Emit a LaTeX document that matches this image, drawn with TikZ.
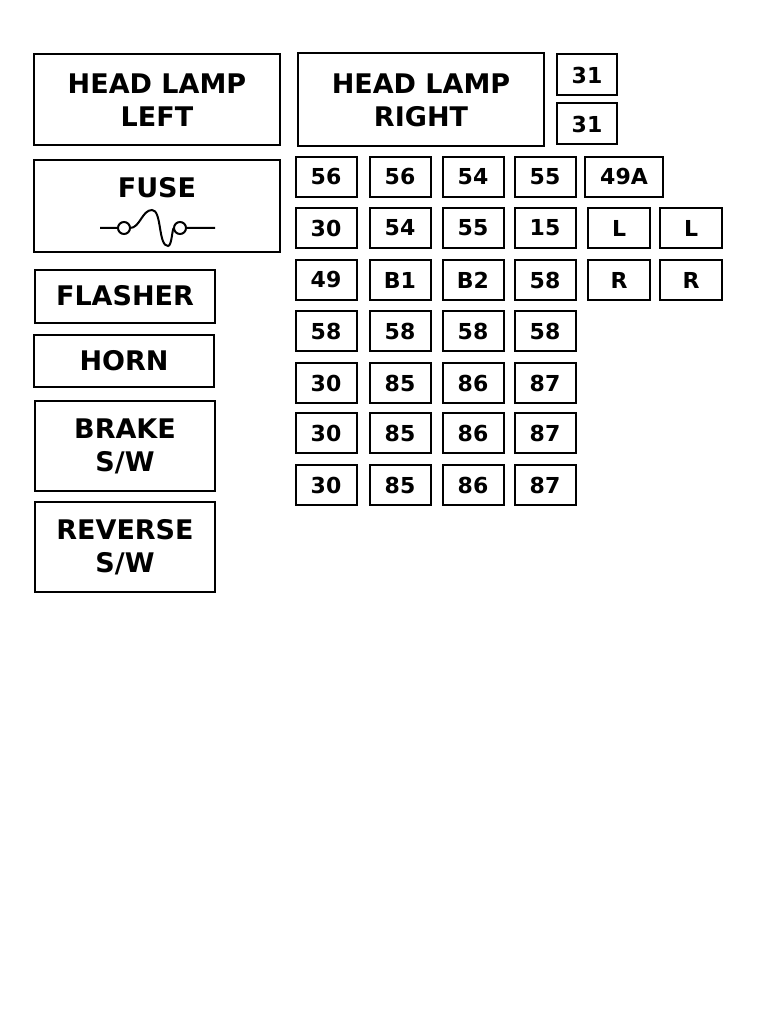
\documentclass[tikz,border=0pt]{standalone}
\usepackage{fontspec}
\setmainfont{DejaVu Sans}
\usetikzlibrary{positioning}
\begin{document}
\begin{tikzpicture}[x=1pt,y=-1pt,line width=2pt,
  lbl/.style={draw,rectangle,inner sep=0pt,align=center,font=\bfseries\fontsize{27}{33}\selectfont},
  pin/.style={draw,rectangle,inner sep=0pt,font=\bfseries\fontsize{22}{24}\selectfont}]
  \useasboundingbox (0,0) rectangle (768,1024);
  % left column
  \node (hll) [lbl,minimum width=246pt,minimum height=91pt] at (157,100) {HEAD LAMP\\LEFT};
  \node (fuse) [lbl,minimum width=246pt,minimum height=91pt,text depth=38pt] at (157,206) {FUSE};
  \node (fla) [lbl,minimum width=180pt,minimum height=53pt] at (125,296) {FLASHER};
  \node (horn) [lbl,minimum width=180pt,minimum height=52pt] at (124,361) {HORN};
  \node (brk) [lbl,minimum width=180pt,minimum height=90pt] at (125,446) {BRAKE\\S/W};
  \node (rev) [lbl,minimum width=180pt,minimum height=90pt] at (125,547) {REVERSE\\S/W};
  \node (hlr) [lbl,minimum width=246pt,minimum height=93pt] at (421,100) {HEAD LAMP\\RIGHT};
  \node (t1) [pin,minimum width=60pt,minimum height=41pt] at (587,75) {31};
  \node (t2) [pin,minimum width=60pt,minimum height=41pt] at (587,124) {31};
  % fuse symbol
  \draw (100,228) -- (118,228) (130,228) .. controls (140,228) and (142,210) .. (152,210)
        .. controls (162,210) and (158,246) .. (168,246) .. controls (172,246) and (172,228) .. (174,228)
        (186,228) -- (215,228);
  \draw (124,228) circle (6) (180,228) circle (6);
  % terminal grid
  \foreach \txt/\x/\y/\n in {56/326/177/a1,56/400/177/a2,54/473/177/a3,55/545/177/a4,
      30/326/228/b1,54/400/228/b2,55/473/228/b3,15/545/228/b4,
      49/326/280/c1,B1/400/280/c2,B2/473/280/c3,58/545/280/c4,
      58/326/331/d1,58/400/331/d2,58/473/331/d3,58/545/331/d4,
      30/326/383/e1,85/400/383/e2,86/473/383/e3,87/545/383/e4,
      30/326/433/f1,85/400/433/f2,86/473/433/f3,87/545/433/f4,
      30/326/485/g1,85/400/485/g2,86/473/485/g3,87/545/485/g4}
    \node (\n) [pin,minimum width=61pt,minimum height=40pt] at (\x,\y) {\txt};
  \node (a5) [pin,minimum width=78pt,minimum height=40pt] at (624,177) {49A};
  \node (b5) [pin,minimum width=62pt,minimum height=40pt] at (619,228) {L};
  \node (b6) [pin,minimum width=62pt,minimum height=40pt] at (691,228) {L};
  \node (c5) [pin,minimum width=62pt,minimum height=40pt] at (619,280) {R};
  \node (c6) [pin,minimum width=62pt,minimum height=40pt] at (691,280) {R};
\end{tikzpicture}
\end{document}
